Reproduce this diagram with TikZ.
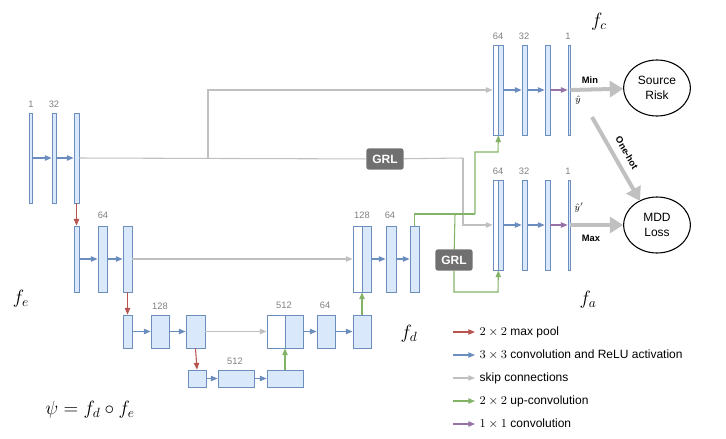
\documentclass[tikz,border=0pt]{standalone}
\usepackage{fontspec}
\setmainfont{Liberation Sans}
\usetikzlibrary{arrows.meta,shapes.geometric}
\definecolor{barfill}{HTML}{DAE8FC}
\definecolor{barline}{HTML}{6C8EBF}
\definecolor{poolc}{HTML}{B85450}
\definecolor{upc}{HTML}{82B366}
\definecolor{skipc}{HTML}{C0C0C0}
\definecolor{onec}{HTML}{9673A6}
\definecolor{grlc}{HTML}{707070}
\tikzset{
  bar/.style={draw=barline, fill=barfill, rectangle, inner sep=0pt, line width=0.6pt},
  wbar/.style={bar, fill=white},
  tip/.style={-{Triangle[length=5pt,width=4pt]}},
  conv/.style={tip, barline, thick},
  pool/.style={tip, poolc, thick},
  up/.style={tip, upc, thick},
  skip/.style={tip, skipc, thick},
  skipline/.style={skipc, thick},
  upline/.style={upc, thick},
  onebyone/.style={tip, onec, thick},
  big/.style={-{Triangle[length=10pt,width=12pt]}, skipc, line width=3pt},
  grl/.style={fill=grlc, text=white, rounded corners=2pt, font=\bfseries\small, minimum width=28pt, minimum height=16pt},
  num/.style={text=gray, font=\scriptsize},
  loss/.style={draw, thick, ellipse, minimum width=50pt, minimum height=42pt, align=center, font=\small},
  legend/.style={font=\small, anchor=west}
}
% block: name, x, y, width, height (pixels)
\newcommand{\blk}[6][bar]{\node[#1, minimum width=#5*0.75pt, minimum height=#6*0.75pt] (#2) at (#3,#4) {};}
\begin{document}
\begin{tikzpicture}[x=0.75pt, y=-0.75pt]
    \useasboundingbox (0,0) rectangle (726,439);

    % Encoder
    \blk{e1}{31}{158}{3}{90}
    \blk{e2}{54}{158}{4}{90}
    \blk{e3}{76.5}{158}{5}{90}
    \blk{e4}{76.5}{259}{5}{66}
    \blk{e5}{102.5}{259}{9}{66}
    \blk{e6}{127.5}{259}{9}{66}
    \blk{e7}{127.5}{331.5}{9}{33}
    \blk{e8}{160}{331.5}{18}{33}
    \blk{e9}{195.5}{331.5}{19}{33}
    \blk{b1}{197}{378.5}{18}{17}
    \blk{b2}{236}{378.5}{36}{17}
    \blk{b3}{285}{378.5}{36}{17}

    % Decoder
    \blk[wbar]{d1w}{276}{331.5}{18}{33}
    \blk{d1}{294}{331.5}{18}{33}
    \blk{d2}{326}{331.5}{18}{33}
    \blk{d3}{362}{331.5}{18}{33}
    \blk[wbar]{d4w}{357.5}{259}{9}{66}
    \blk{d4}{366.5}{259}{9}{66}
    \blk{d5}{391}{259}{10}{66}
    \blk{d6}{414.5}{259}{9}{66}

    % Heads
    \blk[wbar]{c1w}{495.5}{90}{5}{90}
    \blk{c1}{500.5}{90}{5}{90}
    \blk{c2}{524.5}{90}{5}{90}
    \blk{c3}{547.5}{90}{5}{90}
    \blk{c4}{569}{90}{2}{90}
    \blk[wbar]{a1w}{495.5}{225}{5}{90}
    \blk{a1}{500.5}{225}{5}{90}
    \blk{a2}{524.5}{225}{5}{90}
    \blk{a3}{547.5}{225}{5}{90}
    \blk{a4}{569}{225}{2}{90}

    % Channel counts
    \node[num] at (31,104) {1};
    \node[num] at (54,104) {32};
    \node[num] at (103,215) {64};
    \node[num] at (160,306) {128};
    \node[num] at (284,305) {512};
    \node[num] at (325,305) {64};
    \node[num] at (235,361) {512};
    \node[num] at (362,215) {128};
    \node[num] at (390,215) {64};
    \node[num] at (498,36) {64};
    \node[num] at (524,36) {32};
    \node[num] at (568,36) {1};
    \node[num] at (498,171) {64};
    \node[num] at (524,171) {32};
    \node[num] at (568,171) {1};

    % Convolutions
    \draw[conv] (e1) -- (e2);
    \draw[conv] (e2) -- (e3);
    \draw[conv] (e4) -- (e5);
    \draw[conv] (e5) -- (e6);
    \draw[conv] (e7) -- (e8);
    \draw[conv] (e8) -- (e9);
    \draw[conv] (b1) -- (b2);
    \draw[conv] (b2) -- (b3);
    \draw[conv] (d1) -- (d2);
    \draw[conv] (d2) -- (d3);
    \draw[conv] (d4) -- (d5);
    \draw[conv] (d5) -- (d6);
    \draw[conv] (c1) -- (c2);
    \draw[conv] (c2) -- (c3);
    \draw[conv] (a1) -- (a2);
    \draw[conv] (a2) -- (a3);
    \draw[onebyone] (c3) -- (c4);
    \draw[onebyone] (a3) -- (a4);

    % Pooling and up-convolutions
    \draw[pool] (e3.south) -- (e4.north);
    \draw[pool] (e6.south) -- (e7.north);
    \draw[pool] (e9.south) -- (b1.north);
    \draw[up] (b3.north) -- (b3.north |- d1.south);
    \draw[up] (d3.north) -- (d3.north |- d4.south);

    % Skip connections
    \draw[skip] (e9) -- (d1w);
    \draw[skip] (e6) -- (d4w);
    \node[grl] (grl1) at (385,159) {GRL};
    \coordinate (s1) at (208,158);
    \coordinate (s2) at (463,158);
    \draw[skipline] (e3) -- (grl1) -- (s2);
    \draw[skip] (s1) |- (c1w.west);
    \draw[skip] (s2) |- (a1w.west);

    % Up-convolutions to the heads
    \coordinate (g1) at (414.5,214);
    \coordinate (g2) at (475,214);
    \coordinate (g3) at (455,214);
    \node[grl] (grl2) at (454,260) {GRL};
    \draw[upline] (d6.north) -- (g1) -- (g2);
    \draw[up] (g2) |- (498,152) -- (c1w.south east);
    \draw[upline] (g3) -- (grl2);
    \draw[up] (grl2) |- (498,292) -- (a1w.south east);

    % Losses
    \node[loss] (src) at (657,88) {Source\\Risk};
    \node[loss] (mdd) at (657,225) {MDD\\Loss};
    \draw[big] (c4) -- (src);
    \draw[big] (a4) -- (mdd);
    \coordinate (h1) at (592,117);
    \coordinate (h2) at (640,201);
    \draw[big] (h1) -- node[sloped, above=2pt, text=black, font=\bfseries\scriptsize] {One-hot} (h2);
    \node[font=\bfseries\scriptsize] at (590,80) {Min};
    \node[font=\bfseries\scriptsize] at (591,238) {Max};
    \node[font=\scriptsize] at (578,100) {$\hat{y}$};
    \node[font=\scriptsize] at (579,208) {$\hat{y}'$};

    % Labels
    \node[font=\Large] at (599,22) {$f_c$};
    \node[font=\Large] at (588,300) {$f_a$};
    \node[font=\Large] at (21,299) {$f_e$};
    \node[font=\Large] at (409,334) {$f_d$};
    \node[font=\Large] at (90,410) {$\psi = f_d \circ f_e$};

    % Legend
    \foreach \c/\t [count=\i] in {poolc/{$2\times2$ max pool}, barline/{$3\times3$ convolution and ReLU activation}, skipc/{skip connections}, upc/{$2\times2$ up-convolution}, onec/{$1\times1$ convolution}} {
        \coordinate (la\i) at (453,{332+23*(\i-1)});
        \coordinate (lb\i) at (475,{332+23*(\i-1)});
        \draw[tip, \c, thick] (la\i) -- (lb\i);
        \node[legend] at (lb\i) {\t};
    }
\end{tikzpicture}
\end{document}
